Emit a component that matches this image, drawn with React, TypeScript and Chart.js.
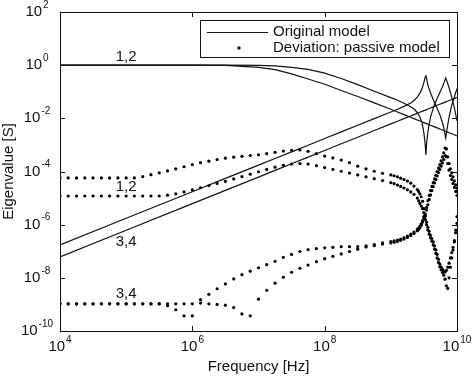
import React, { useEffect, useRef } from "react";
import { Chart, registerables } from "chart.js";

Chart.register(...registerables);

// ---------- Original model (solid lines) ----------
const lineFreq = [
  1e4, 1e5, 1e6, 3.16e6, 1e7, 1.78e7, 3.16e7, 5.62e7, 1e8, 1.78e8, 3.16e8, 5.62e8,
  1e9, 1.26e9, 1.58e9, 2.0e9, 2.24e9, 2.51e9, 2.75e9, 2.95e9, 3.16e9, 3.31e9, 3.39e9,
  3.47e9, 3.63e9, 3.98e9, 4.47e9, 5.01e9, 5.62e9, 6.17e9, 6.46e9, 6.76e9, 7.08e9,
  7.59e9, 8.32e9, 9.12e9, 1e10,
];
const orig1 = [
  1, 1, 1, 1, 0.977, 0.933, 0.832, 0.692, 0.501, 0.316, 0.186, 0.105,
  0.0603, 0.0479, 0.0372, 0.0275, 0.0224, 0.0166, 0.0112, 0.00708, 0.00282, 0.001, 4.17e-4,
  0.00112, 0.00316, 0.0112, 0.0282, 0.0562, 0.105, 0.178, 0.24, 0.331, 0.24,
  0.141, 0.0631, 0.0251, 0.00794,
];
const orig2 = [
  1, 1, 1, 0.977, 0.832, 0.676, 0.468, 0.302, 0.191, 0.112, 0.0661, 0.038,
  0.0219, 0.0174, 0.0138, 0.011, 0.00977, 0.0087, 0.00794, 0.00741, 0.00692, 0.00661, 0.00646,
  0.00631, 0.00603, 0.0055, 0.0049, 0.00437, 0.00389, 0.00355, 0.00339, 0.00324, 0.00309,
  0.00288, 0.00263, 0.0024, 0.00219,
];
const orig3 = [
  1.74e-7, 1.74e-6, 1.74e-5, 5.5e-5, 1.74e-4, 3.09e-4, 5.5e-4, 9.77e-4, 1.74e-3, 3.09e-3, 5.5e-3, 9.77e-3,
  0.0174, 0.0219, 0.0282, 0.038, 0.0468, 0.0631, 0.0891, 0.126, 0.224, 0.355, 0.427,
  0.316, 0.178, 0.0891, 0.0447, 0.024, 0.012, 0.00562, 0.00316, 0.00182, 0.00398,
  0.0112, 0.0316, 0.0631, 0.132,
];
const orig4 = [
  6.17e-8, 6.17e-7, 6.17e-6, 1.95e-5, 6.17e-5, 1.1e-4, 1.95e-4, 3.47e-4, 6.17e-4, 1.1e-3, 1.95e-3, 3.47e-3,
  6.17e-3, 7.76e-3, 9.77e-3, 0.0123, 0.0138, 0.0155, 0.017, 0.0182, 0.0195, 0.0204, 0.0209,
  0.0214, 0.0224, 0.0245, 0.0275, 0.0309, 0.0347, 0.038, 0.0398, 0.0417, 0.0437,
  0.0468, 0.0513, 0.0562, 0.0617,
];

// ---------- Deviation: passive model (dots) ----------
const devFreq = [
  1e4, 1.33e4, 1.78e4, 2.37e4, 3.16e4, 4.22e4, 5.62e4, 7.5e4,
  1e5, 1.33e5, 1.78e5, 2.37e5, 3.16e5, 4.22e5, 5.62e5, 7.5e5,
  1e6, 1.33e6, 1.78e6, 2.37e6, 3.16e6, 4.22e6, 5.62e6, 7.5e6,
  1e7, 1.33e7, 1.78e7, 2.37e7, 3.16e7, 4.22e7, 5.62e7, 7.5e7,
  1e8, 1.33e8, 1.78e8, 2.37e8, 3.16e8, 4.22e8, 5.62e8, 7.5e8,
  1e9, 1.12e9, 1.26e9, 1.41e9, 1.58e9, 1.78e9, 2.0e9, 2.24e9, 2.51e9,
  2.63e9, 2.75e9, 2.88e9, 3.02e9, 3.16e9, 3.31e9, 3.47e9, 3.63e9, 3.8e9, 3.98e9,
  4.17e9, 4.37e9, 4.57e9, 4.79e9, 5.01e9, 5.25e9, 5.5e9, 5.75e9, 6.03e9, 6.31e9,
  6.61e9, 6.92e9, 7.24e9, 7.59e9, 7.94e9, 8.32e9, 8.71e9, 9.12e9, 9.55e9, 1e10,
];
const dev1 = [
  5.75e-5, 5.75e-5, 5.75e-5, 5.75e-5, 5.75e-5, 5.75e-5, 5.75e-5, 5.75e-5,
  5.75e-5, 5.75e-5, 6.46e-5, 7.59e-5, 8.91e-5, 1.05e-4, 1.26e-4, 1.51e-4,
  1.82e-4, 2.14e-4, 2.45e-4, 2.82e-4, 3.16e-4, 3.47e-4, 3.72e-4, 3.98e-4,
  4.27e-4, 4.68e-4, 5.25e-4, 5.89e-4, 6.31e-4, 6.46e-4, 5.75e-4, 4.68e-4,
  3.8e-4, 3.24e-4, 2.69e-4, 2.14e-4, 1.58e-4, 1.26e-4, 1.02e-4, 8.51e-5,
  7.41e-5, 6.92e-5, 6.31e-5, 5.62e-5, 5.01e-5, 4.37e-5, 3.63e-5, 2.82e-5, 2.09e-5,
  1.78e-5, 1.45e-5, 1.12e-5, 7.59e-6, 3.98e-6, 2.51e-6, 4.47e-6, 7.94e-6, 1.26e-5, 1.91e-5,
  2.75e-5, 3.8e-5, 5.25e-5, 7.24e-5, 1e-4, 1.35e-4, 1.82e-4, 2.51e-4, 3.55e-4, 5.01e-4,
  7.59e-4, 7.08e-4, 3.55e-4, 2.0e-4, 1.26e-4, 8.91e-5, 6.31e-5, 4.47e-5, 3.16e-5, 2.4e-5,
];
const dev2 = [
  1.2e-5, 1.2e-5, 1.2e-5, 1.2e-5, 1.2e-5, 1.2e-5, 1.2e-5, 1.2e-5,
  1.2e-5, 1.2e-5, 1.2e-5, 1.2e-5, 1.2e-5, 1.29e-5, 1.45e-5, 1.7e-5,
  2.04e-5, 2.45e-5, 2.95e-5, 3.55e-5, 4.27e-5, 5.25e-5, 6.46e-5, 7.94e-5,
  9.77e-5, 1.2e-4, 1.45e-4, 1.7e-4, 1.91e-4, 2.0e-4, 1.91e-4, 1.66e-4,
  1.41e-4, 1.2e-4, 1.02e-4, 8.71e-5, 7.41e-5, 6.31e-5, 5.37e-5, 4.57e-5,
  3.8e-5, 3.47e-5, 3.09e-5, 2.75e-5, 2.4e-5, 2.04e-5, 1.7e-5, 1.38e-5, 1e-5,
  7.94e-6, 6.31e-6, 5.01e-6, 3.98e-6, 2.82e-6, 2.09e-6, 3.55e-6, 5.62e-6, 8.91e-6, 1.32e-5,
  1.91e-5, 2.69e-5, 3.72e-5, 5.01e-5, 6.76e-5, 9.12e-5, 1.2e-4, 1.58e-4, 2.09e-4, 2.82e-4,
  3.98e-4, 3.55e-4, 2.0e-4, 1.12e-4, 7.08e-5, 5.01e-5, 3.55e-5, 2.51e-5, 1.78e-5, 1.26e-5,
];
const dev3 = [
  1.05e-9, 1.05e-9, 1.05e-9, 1.05e-9, 1.05e-9, 1.05e-9, 1.05e-9, 1.05e-9,
  1.05e-9, 1.05e-9, 1.05e-9, 1.05e-9, 1.05e-9, 1.05e-9, 1.05e-9, 1.05e-9,
  1.05e-9, 1.51e-9, 2.4e-9, 3.89e-9, 5.89e-9, 9.12e-9, 1.32e-8, 1.78e-8,
  2.4e-8, 3.16e-8, 4.17e-8, 5.89e-8, 7.59e-8, 9.77e-8, 1.15e-7, 1.26e-7,
  1.35e-7, 1.41e-7, 1.48e-7, 1.48e-7, 1.51e-7, 1.58e-7, 1.78e-7, 2.09e-7,
  2.29e-7, 2.45e-7, 2.63e-7, 2.88e-7, 3.24e-7, 3.72e-7, 4.37e-7, 5.25e-7, 6.61e-7,
  7.41e-7, 8.71e-7, 1.07e-6, 1.41e-6, 2.0e-6, 2.24e-6, 1.26e-6, 7.94e-7, 5.62e-7, 3.98e-7,
  3.02e-7, 2.24e-7, 1.58e-7, 1.12e-7, 7.59e-8, 5.01e-8, 3.31e-8, 2.51e-8, 2.09e-8, 1.78e-8,
  1.66e-8, 1.91e-8, 2.51e-8, 3.55e-8, 5.62e-8, 8.91e-8, 1.41e-7, 2.51e-7, 5.01e-7, 1.12e-6,
];
const dev4 = [
  1.05e-9, 1.05e-9, 1.05e-9, 1.05e-9, 1.05e-9, 1.05e-9, 1.05e-9, 1.05e-9,
  1.05e-9, 1.05e-9, 1.05e-9, 1.05e-9, 1.05e-9, 8.91e-10, 6.31e-10, 3.72e-10,
  3.72e-10, 1.12e-9, 1.05e-9, 1e-9, 9.33e-10, 7.59e-10, 4.37e-10, 3.72e-10,
  1.58e-9, 3.39e-9, 6.31e-9, 1.05e-8, 1.62e-8, 2.29e-8, 3.02e-8, 4.07e-8,
  5.25e-8, 6.46e-8, 7.94e-8, 9.77e-8, 1.2e-7, 1.45e-7, 1.62e-7, 1.86e-7,
  2.04e-7, 2.19e-7, 2.34e-7, 2.57e-7, 2.88e-7, 3.31e-7, 3.89e-7, 4.68e-7, 5.89e-7,
  6.61e-7, 7.76e-7, 9.55e-7, 1.26e-6, 1.78e-6, 1.58e-6, 1e-6, 6.31e-7, 4.37e-7, 3.16e-7,
  2.4e-7, 1.74e-7, 1.2e-7, 8.32e-8, 5.62e-8, 3.8e-8, 2.63e-8, 2e-8, 1.58e-8, 1.26e-8,
  8.91e-9, 5.01e-9, 3.98e-9, 1e-8, 2.51e-8, 5.62e-8, 1.12e-7, 2.24e-7, 6.31e-7, 2e-6,
];

// ---------- Axes ----------
const xTicks = [1e4, 1e6, 1e8, 1e10];
const xTickExp = ["4", "6", "8", "10"];
const yTicks = [1e2, 1e0, 1e-2, 1e-4, 1e-6, 1e-8, 1e-10];
const yTickExp = ["2", "0", "-2", "-4", "-6", "-8", "-10"];
const xTitle = "Frequency [Hz]";
const yTitle = "Eigenvalue [S]";
const legendLabels = ["Original model", "Deviation: passive model"];

// curve annotations (placed in data coordinates)
const curveLabelText = ["1,2", "1,2", "3,4", "3,4"];
const curveLabelFreq = [1e5, 1e5, 1e5, 1e5];
const curveLabelValue = [2.0, 2.6e-5, 2.2e-7, 2.5e-9];

const FONT = '"Liberation Sans", Arial, Helvetica, sans-serif';
const INK = "#111";

function drawPow(ctx: CanvasRenderingContext2D, exp: string, x: number, y: number) {
  ctx.font = `15px ${FONT}`;
  const wb = ctx.measureText("10").width;
  ctx.font = `10px ${FONT}`;
  const we = ctx.measureText(exp).width;
  const total = wb + we + 1;
  const start = x - total / 2;
  ctx.textAlign = "left";
  ctx.textBaseline = "middle";
  ctx.font = `15px ${FONT}`;
  ctx.fillText("10", start, y);
  ctx.font = `10px ${FONT}`;
  ctx.fillText(exp, start + wb + 1, y - 7);
}

const overlayPlugin = {
  id: "overlay",
  afterDraw(chart: any) {
    const ctx: CanvasRenderingContext2D = chart.ctx;
    const { left, right, top, bottom } = chart.chartArea;
    const xs = chart.scales.x;
    const ys = chart.scales.y;
    ctx.save();
    ctx.strokeStyle = INK;
    ctx.fillStyle = INK;
    ctx.lineWidth = 1;
    // box
    ctx.strokeRect(Math.round(left) + 0.5, Math.round(top) + 0.5, Math.round(right - left), Math.round(bottom - top));
    // ticks
    ctx.beginPath();
    xTicks.forEach((v) => {
      const px = Math.round(xs.getPixelForValue(v)) + 0.5;
      ctx.moveTo(px, bottom);
      ctx.lineTo(px, bottom - 5);
      ctx.moveTo(px, top);
      ctx.lineTo(px, top + 5);
    });
    yTicks.forEach((v) => {
      const py = Math.round(ys.getPixelForValue(v)) + 0.5;
      ctx.moveTo(left, py);
      ctx.lineTo(left + 5, py);
      ctx.moveTo(right, py);
      ctx.lineTo(right - 5, py);
    });
    ctx.stroke();
    // tick labels
    xTicks.forEach((v, i) => {
      drawPow(ctx, xTickExp[i], xs.getPixelForValue(v), bottom + 16);
    });
    yTicks.forEach((v, i) => {
      drawPow(ctx, yTickExp[i], 37, ys.getPixelForValue(v));
    });
    // axis titles
    ctx.font = `15px ${FONT}`;
    ctx.textAlign = "center";
    ctx.textBaseline = "middle";
    ctx.fillText(xTitle, (left + right) / 2, 367);
    ctx.save();
    ctx.translate(9, (top + bottom) / 2);
    ctx.rotate(-Math.PI / 2);
    ctx.fillText(yTitle, 0, 0);
    ctx.restore();
    // curve labels
    ctx.font = `15px ${FONT}`;
    curveLabelText.forEach((t, i) => {
      ctx.fillText(t, xs.getPixelForValue(curveLabelFreq[i]), ys.getPixelForValue(curveLabelValue[i]));
    });
    // legend
    ctx.fillStyle = "#fff";
    ctx.fillRect(200.5, 20.5, 249, 37);
    ctx.strokeRect(200.5, 20.5, 249, 37);
    ctx.beginPath();
    ctx.moveTo(207, 32.5);
    ctx.lineTo(268, 32.5);
    ctx.stroke();
    ctx.fillStyle = INK;
    ctx.beginPath();
    ctx.arc(239, 48, 1.7, 0, Math.PI * 2);
    ctx.fill();
    ctx.textAlign = "left";
    ctx.textBaseline = "middle";
    ctx.font = `15px ${FONT}`;
    ctx.fillText(legendLabels[0], 273, 32);
    ctx.fillText(legendLabels[1], 273, 48);
    ctx.restore();
  },
};

export default function App() {
  const ref = useRef<HTMLCanvasElement | null>(null);
  useEffect(() => {
    if (!ref.current) return;
    const lineSet = (vals: number[]) => ({
      data: lineFreq.map((f, i) => ({ x: f, y: vals[i] })),
      showLine: true,
      borderColor: INK,
      borderWidth: 1.2,
      pointRadius: 0,
      tension: 0,
      fill: false,
    });
    const dotSet = (vals: number[]) => ({
      data: devFreq.map((f, i) => ({ x: f, y: vals[i] })),
      showLine: false,
      pointRadius: 1.6,
      pointBorderWidth: 0,
      backgroundColor: "#000",
      borderColor: "#000",
    });
    const chart = new Chart(ref.current, {
      type: "scatter",
      data: {
        datasets: [
          lineSet(orig1), lineSet(orig2), lineSet(orig3), lineSet(orig4),
          dotSet(dev1), dotSet(dev2), dotSet(dev3), dotSet(dev4),
        ] as any,
      },
      options: {
        animation: false,
        responsive: false,
        devicePixelRatio: 1,
        layout: { padding: { left: 60, right: 17, top: 12, bottom: 45 } },
        plugins: { legend: { display: false }, tooltip: { enabled: false } },
        scales: {
          x: { type: "logarithmic", min: 1e4, max: 1e10, display: false },
          y: { type: "logarithmic", min: 1e-10, max: 1e2, display: false },
        },
      } as any,
      plugins: [overlayPlugin],
    });
    return () => chart.destroy();
  }, []);
  return (
    <div style={{ position: "fixed", left: 0, top: 0, width: 474, height: 376, background: "#fff" }}>
      <canvas ref={ref} width={474} height={376} style={{ display: "block" }} />
    </div>
  );
}
